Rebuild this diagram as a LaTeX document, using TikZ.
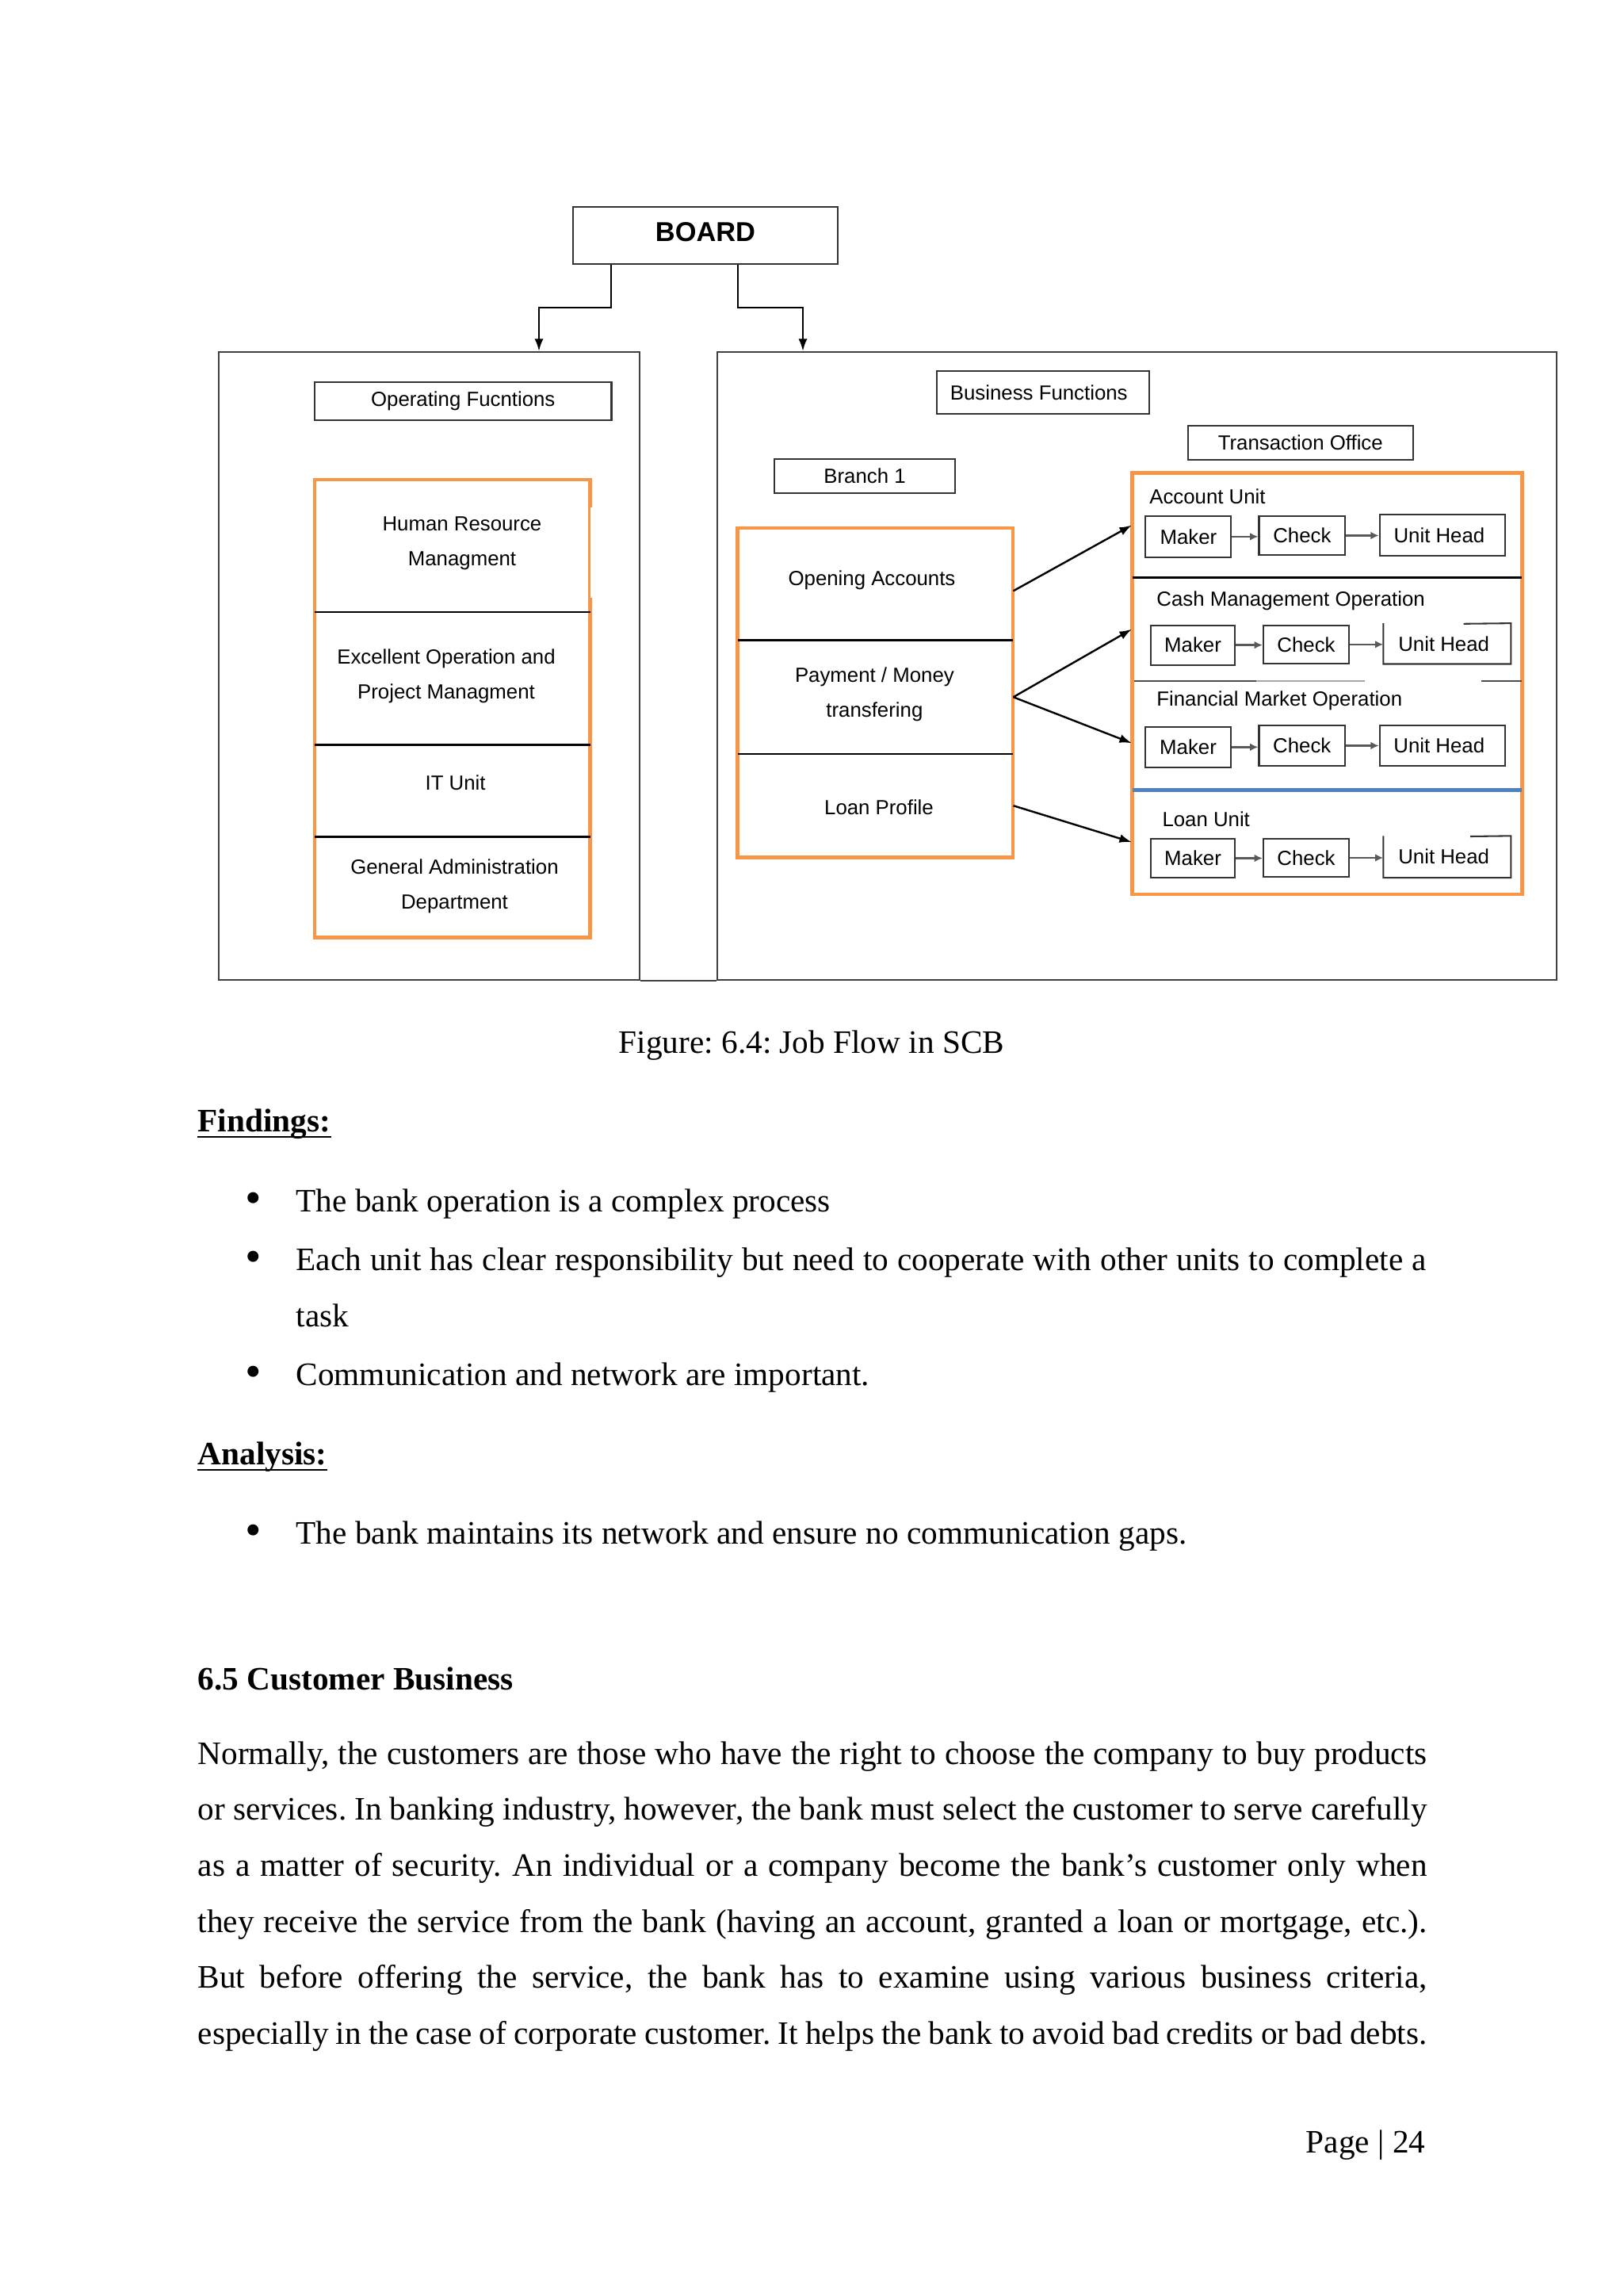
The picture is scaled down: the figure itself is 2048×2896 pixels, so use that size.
\documentclass[tikz,border=0pt]{standalone}
\usepackage{fontspec}
\setmainfont{Liberation Serif}
\newfontfamily\diagfont{Liberation Sans}
\usetikzlibrary{arrows.meta,fit}
\definecolor{orangeC}{HTML}{F79646}
\definecolor{blueC}{HTML}{4F81BD}
\newcommand{\dg}{\diagfont\fontsize{7.5}{12.8}\selectfont}
\newcommand{\bodyfont}{\fontsize{12}{14}\selectfont}
\frenchspacing
\tikzset{
  box/.style={draw=black!80, line width=0.6pt, inner sep=0pt},
  cell/.style={inner sep=0pt, font=\dg, align=center},
  obox/.style={draw=orangeC, line width=1.3pt, inner sep=0pt},
  panel/.style={draw=black!75, line width=0.6pt, inner sep=0pt},
  panelline/.style={draw=black!75, line width=0.6pt},
  divider/.style={draw=black, line width=0.7pt},
  conn/.style={draw=black, line width=0.7pt, -{Latex[length=4.5pt,width=3.2pt]}},
  sarr/.style={draw=black!65, line width=0.7pt, -{Latex[length=3pt,width=2.8pt]}},
  lbl/.style={inner sep=0pt, font=\dg, anchor=west},
  body/.style={inner sep=0pt, anchor=base west, font=\bodyfont},
  bul/.style={inner sep=0pt, anchor=base, font=\fontsize{17}{17}\selectfont},
}
\begin{document}
\begin{tikzpicture}[x=0.290662pt,y=-0.290662pt]
\useasboundingbox (0,0) rectangle (2048,2896);
\fill[white] (0,0) rectangle (2048,2896);

% ---------------- BOARD ----------------
\node[box, fit={(723,261) (1057,333)}] (board) {};
\node[cell, font=\diagfont\bfseries\fontsize{10}{12}\selectfont] (boardt) at ([yshift=1.2pt]board.center) {BOARD};

% ---------------- panels ----------------
\node[panel, fit={(276,444) (807,1236)}] (leftpanel) {};
\node[panel, fit={(905,444) (1964,1236)}] (rightpanel) {};
\draw[panelline] (leftpanel.south east) -- (rightpanel.south west);

\coordinate (lbend) at (680,388);
\coordinate (rbend) at (1013,388);
\draw[conn] ([xshift=-34.6pt]board.south) |- (lbend) -- (lbend |- leftpanel.north);
\draw[conn] ([xshift=11.9pt]board.south) |- (rbend) -- (rbend |- rightpanel.north);

% ---------------- left side ----------------
\node[box, fit={(397,482) (771.5,530)}] (opfun) {};
\node[cell] (opfunt) at (opfun.center) {Operating Fucntions};
\node[obox, fit={(397,605) (744.5,1182.5)}] (leftorange) {};
\draw[white, line width=0.7pt] (745.8,640) -- (745.8,754);
\draw[divider] (397,772) -- (744.5,772);
\draw[divider] (397,939.5) -- (744.5,939.5);
\draw[divider] (397,1055.5) -- (744.5,1055.5);
\node[cell] (hr) at (583,685) {Human Resource\\Managment};
\node[cell] (exc) at (563,853) {Excellent Operation and\\Project Managment};
\node[cell] (it) at (574.6,987) {IT Unit};
\node[cell] (gen) at (573.5,1118) {General Administration\\Department};

% ---------------- right side ----------------
\node[box, fit={(1181.6,468) (1450.3,521.7)}] (busfun) {};
\node[cell] (busfunt) at ([xshift=-1.5pt]busfun.center) {Business Functions};
\node[box, fit={(1498.7,536.7) (1782.8,580)}] (trans) {};
\node[cell] (transt) at (trans.center) {Transaction Office};
\node[box, fit={(977,579) (1205,621.7)}] (branch) {};
\node[cell] (brancht) at (branch.center) {Branch 1};

% middle orange box
\node[obox, fit={(930.5,666) (1277.8,1081.4)}] (midorange) {};
\draw[divider] (930.5,807.5) -- (1277.8,807.5);
\draw[divider] (930.5,951) -- (1277.8,951);
\node[inner sep=0pt, fit={(930.5,666) (1277.8,807.5)}] (opencell) {};
\node[inner sep=0pt, fit={(930.5,807.5) (1277.8,951)}] (paycell) {};
\node[inner sep=0pt, fit={(930.5,951) (1277.8,1081.4)}] (loancell) {};
\node[cell] (opent) at (1100,732) {Opening Accounts};
\node[cell] (payt) at (1103.4,876) {Payment / Money\\transfering};
\node[cell] (loant) at (1109,1018) {Loan Profile};

% right orange box
\node[obox, fit={(1428.6,596.7) (1920.3,1128)}] (rightorange) {};
\draw[divider] (1428.6,728.3) -- (1920.3,728.3);
\draw[draw=black!70, line width=0.6pt] (1431,859) -- (1585,859);
\draw[draw=black!35, line width=0.6pt] (1585,859) -- (1722,859);
\draw[draw=black!70, line width=0.6pt] (1869,859) -- (1920,859);
\draw[draw=blueC, line width=1.3pt] (1428.6,996.4) -- (1920.3,996.4);

\node[inner sep=0pt, fit={(1428.6,596.7) (1920.3,728.3)}] (accsec) {};
\node[inner sep=0pt, fit={(1428.6,728.3) (1920.3,859)}] (cashsec) {};
\node[inner sep=0pt, fit={(1428.6,859) (1920.3,996.4)}] (finsec) {};
\node[inner sep=0pt, fit={(1428.6,996.4) (1920.3,1128)}] (loansec) {};

\node[lbl] (acclbl) at (1449.6,626.7) {Account Unit};
\node[lbl] (cashlbl) at (1458.7,758.3) {Cash Management Operation};
\node[lbl] (finlbl) at (1458.7,884) {Financial Market Operation};
\node[lbl] (loanlbl) at (1465.8,1032.9) {Loan Unit};

% row 1
\node[box, fit={(1445.4,651) (1553.4,702.7)}] (maker1) {};
\node[box, fit={(1588.5,651) (1697.3,700)}] (check1) {};
\node[box, fit={(1740.8,649) (1899.3,700.7)}] (uh1) {};
% row 2
\node[box, fit={(1451.7,788.6) (1558.4,838.6)}] (maker2) {};
\node[box, fit={(1594,788.6) (1702,837)}] (check2) {};
\node[inner sep=0pt, fit={(1746,786.8) (1905.6,836.8)}] (uh2) {};
\draw[draw=black!80, line width=0.6pt] (uh2.north west) -- (uh2.south west) -- (uh2.south east) -- (uh2.north east) -- (1846.7,786.8);
% row 3
\node[box, fit={(1445,916.8) (1553,967.9)}] (maker3) {};
\node[box, fit={(1588.5,915) (1697,966)}] (check3) {};
\node[box, fit={(1740.8,915) (1899,966)}] (uh3) {};
% row 4
\node[box, fit={(1451.7,1057.9) (1558.4,1107)}] (maker4) {};
\node[box, fit={(1594,1057.9) (1702,1106)}] (check4) {};
\node[inner sep=0pt, fit={(1746,1055) (1905.6,1106.4)}] (uh4) {};
\draw[draw=black!80, line width=0.6pt] (uh4.north west) -- (uh4.south west) -- (uh4.south east) -- (uh4.north east) -- (1855,1055);

\foreach \r in {1,2,3,4}{
  \node[cell] (maker\r t) at (maker\r.center) {Maker};
  \node[cell] (check\r t) at (check\r.center) {Check};
  \node[cell] (uh\r t) at ([xshift=-1.2pt]uh\r.center) {Unit Head};
  \draw[sarr] (maker\r.east) -- (maker\r.east -| check\r.west);
  \draw[sarr] (check\r.east) -- (check\r.east -| uh\r.west);
}

% connectors from middle box to right box
\draw[conn] ([yshift=-2.5pt]opencell.east) -- (accsec.west);
\draw[conn] (paycell.east) -- (cashsec.west);
\draw[conn] (paycell.east) -- ([yshift=-2.8pt]finsec.west);
\draw[conn] (loancell.east) -- (loansec.west);

% ---------------- caption and text ----------------
\node[inner sep=0pt, anchor=base, font=\bodyfont] (caption) at (1024,1328) {Figure: 6.4: Job Flow in SCB};

\node[body] (findings) at (249,1427) {\bfseries Findings:};
\draw[line width=0.8pt] ([yshift=-2pt]findings.base west) -- ([yshift=-2pt]findings.base east);

\node[bul] (b1) at (320,1530) {\textbullet};
\node[body] (t1) at (373,1528) {The bank operation is a complex process};
\node[bul] (b2) at (320,1604) {\textbullet};
\node[body] (t2) at (373,1602) {\makebox[414.5pt][s]{Each unit has clear responsibility but need to cooperate with other units to complete a}};
\node[body] (t2b) at (373,1673) {task};
\node[bul] (b3) at (320,1749) {\textbullet};
\node[body] (t3) at (373,1747) {Communication and network are important.};

\node[body] (analysis) at (249,1847) {\bfseries Analysis:};
\draw[line width=0.8pt] ([yshift=-2pt]analysis.base west) -- ([yshift=-2pt]analysis.base east);

\node[bul] (b4) at (320,1949) {\textbullet};
\node[body] (t4) at (373,1947) {The bank maintains its network and ensure no communication gaps.};

\node[body] (sec) at (249,2131.6) {\bfseries 6.5 Customer Business};

\node[body] (p1) at (249,2225) {\makebox[450.8pt][s]{Normally, the customers are those who have the right to choose the company to buy products}};
\node[body] (p2) at (249,2295.7) {\makebox[450.8pt][s]{or services. In banking industry, however, the bank must select the customer to serve carefully}};
\node[body] (p3) at (249,2366.4) {\makebox[450.8pt][s]{as a matter of security. An individual or a company become the bank’s customer only when}};
\node[body] (p4) at (249,2437.2) {\makebox[450.8pt][s]{they receive the service from the bank (having an account, granted a loan or mortgage, etc.).}};
\node[body] (p5) at (249,2507.9) {\makebox[450.8pt][s]{But before offering the service, the bank has to examine using various business criteria,}};
\node[body] (p6) at (249,2578.6) {\makebox[450.8pt][s]{especially in the case of corporate customer. It helps the bank to avoid bad credits or bad debts.}};

\node[body, anchor=base east] (page) at (1799,2715) {Page | 24};
\end{tikzpicture}
\end{document}
